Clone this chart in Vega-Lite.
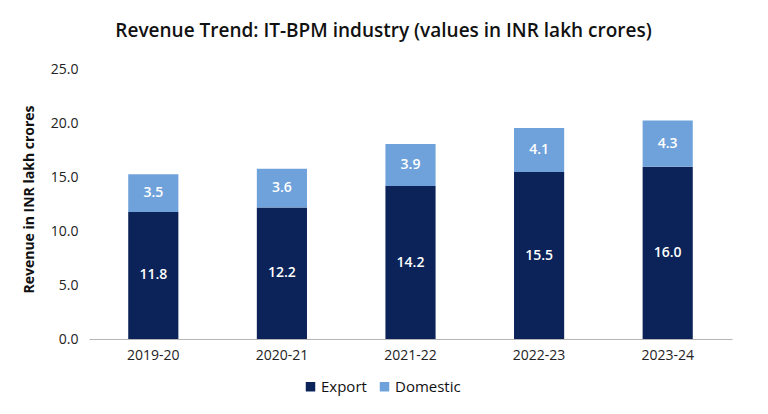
{
  "$schema": "https://vega.github.io/schema/vega-lite/v6.json",
  "width": 643,
  "height": 280,
  "autosize": "none",
  "padding": {"left": 89, "top": 59, "right": 36, "bottom": 75},
  "background": "white",
  "title": {
    "text": "Revenue Trend: IT-BPM industry (values in INR lakh crores)",
    "anchor": "middle",
    "frame": "group",
    "dx": -27,
    "offset": 18,
    "fontSize": 19,
    "fontWeight": 600,
    "font": "Open Sans",
    "color": "#111111"
  },
  "data": {
    "values": [
      {"year": "2019-20", "type": "Export", "value": 11.8},
      {"year": "2019-20", "type": "Domestic", "value": 3.5},
      {"year": "2020-21", "type": "Export", "value": 12.2},
      {"year": "2020-21", "type": "Domestic", "value": 3.6},
      {"year": "2021-22", "type": "Export", "value": 14.2},
      {"year": "2021-22", "type": "Domestic", "value": 3.9},
      {"year": "2022-23", "type": "Export", "value": 15.5},
      {"year": "2022-23", "type": "Domestic", "value": 4.1},
      {"year": "2023-24", "type": "Export", "value": 16.0},
      {"year": "2023-24", "type": "Domestic", "value": 4.3}
    ]
  },
  "transform": [
    {"stack": "value", "groupby": ["year"], "sort": [{"field": "type", "order": "descending"}], "as": ["y0", "y1"]},
    {"calculate": "(datum.y0 + datum.y1) / 2", "as": "ymid"}
  ],
  "encoding": {
    "x": {
      "field": "year",
      "type": "nominal",
      "scale": {"paddingInner": 0.61, "paddingOuter": 0.305},
      "axis": {
        "title": null,
        "labelAngle": 0,
        "ticks": false,
        "domainColor": "#b5b5b5",
        "labelPadding": 9,
        "labelFontSize": 14,
        "labelColor": "#222222",
        "labelFont": "Open Sans"
      }
    }
  },
  "layer": [
    {
      "mark": {"type": "bar"},
      "encoding": {
        "y": {
          "field": "y0",
          "type": "quantitative",
          "scale": {"domain": [0, 25]},
          "axis": {
            "title": "Revenue in INR lakh crores",
            "values": [0, 5, 10, 15, 20, 25],
            "format": ".1f",
            "domain": false,
            "ticks": false,
            "grid": false,
            "labelPadding": 11,
            "labelFontSize": 14,
            "labelColor": "#222222",
            "labelFont": "Open Sans",
            "titleFont": "Open Sans",
            "titleFontSize": 14,
            "titleFontWeight": "bold",
            "titleColor": "#111111",
            "titlePadding": 14
          }
        },
        "y2": {"field": "y1"},
        "color": {
          "field": "type",
          "type": "nominal",
          "scale": {"domain": ["Export", "Domestic"], "range": ["#0b2358", "#6fa2db"]},
          "legend": {
            "title": null,
            "orient": "none",
            "legendX": 214,
            "legendY": 320,
            "direction": "horizontal",
            "symbolType": "square",
            "symbolSize": 90,
            "symbolStrokeWidth": 0,
            "labelFontSize": 15,
            "labelFont": "Open Sans",
            "labelColor": "#111111",
            "columnPadding": 10,
            "labelOffset": 3
          }
        }
      }
    },
    {
      "mark": {"type": "text", "color": "white", "fontSize": 14, "fontWeight": 600, "font": "Open Sans", "baseline": "middle"},
      "encoding": {
        "y": {"field": "ymid", "type": "quantitative"},
        "text": {"field": "value", "type": "quantitative", "format": ".1f"}
      }
    }
  ],
  "config": {"view": {"stroke": null}}
}
